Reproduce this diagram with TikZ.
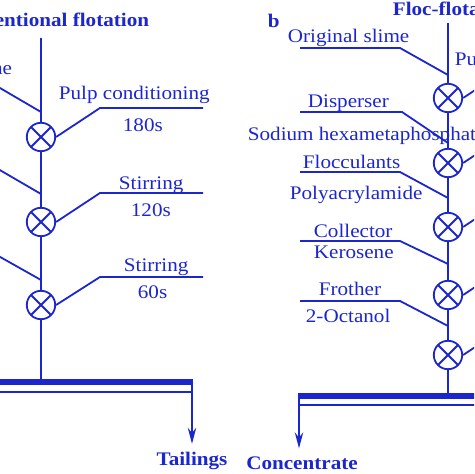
\documentclass[tikz,border=0pt]{standalone}
\usepackage{fontspec}
\setmainfont{Liberation Serif}[FakeStretch=1.1]
\usepackage{xcolor}
\usetikzlibrary{arrows.meta}
\definecolor{flowblue}{RGB}{28,38,205}

\begin{document}
\begin{tikzpicture}[x=0.5pt, y=-0.5pt, >={Stealth[length=8pt,width=4.2pt]},
  color=flowblue, line width=0.9pt,
  every node/.style={font=\fontsize{9.6}{11}\selectfont, inner sep=0pt},
  title/.style={font=\fontsize{9.6}{11}\selectfont\bfseries},
  mixer/.style={circle, draw, minimum size=14.2pt, path picture={
    \draw (path picture bounding box.north west) -- (path picture bounding box.south east)
          (path picture bounding box.north east) -- (path picture bounding box.south west);}}]
  \useasboundingbox (0,0) rectangle (474,474);
  \clip (0,0) rectangle (474,474);

  % conventional flotation
  \node[title, anchor=base east] (tConv) at (150,27) {Conventional flotation};
  \node[anchor=base east] (tSlimeA) at (13,75) {Original slime};
  \node[mixer] (a1) at (41,137) {};
  \node[mixer] (a2) at (41,222) {};
  \node[mixer] (a3) at (41,305) {};
  \coordinate (aTop) at (41,38);
  \coordinate (aBar) at (41,379);
  \draw (aTop) -- (a1) -- (a2) -- (a3) -- (aBar);
  \coordinate (aJ1) at (41,112);
  \coordinate (aJ2) at (41,194);
  \coordinate (aJ3) at (41,280);
  \coordinate (aIn1) at (-12,81);
  \coordinate (aIn2) at (-14,162);
  \coordinate (aIn3) at (-14,249);
  \draw (-120,81) -- (aIn1) -- (aJ1);
  \draw (-120,162) -- (aIn2) -- (aJ2);
  \draw (-120,249) -- (aIn3) -- (aJ3);
  \node[anchor=base west] (tPulpA) at (58,100) {Pulp conditioning};
  \node[anchor=base west] (tTimeA1) at (122,132) {180s};
  \node[anchor=base west] (tStirA2) at (118,190) {Stirring};
  \node[anchor=base west] (tTimeA2) at (130,217) {120s};
  \node[anchor=base west] (tStirA3) at (123,272) {Stirring};
  \node[anchor=base west] (tTimeA3) at (137,299) {60s};
  \draw (a1.east) -- (100,108) -- (203,108);
  \draw (a2.east) -- (100,193) -- (203,193);
  \draw (a3.east) -- (100,277) -- (203,277);
  \fill (-10,379) rectangle (192,385);
  \draw (-10,392) -- (192,392);
  \coordinate (aBarR) at (192,379);
  \node[title, anchor=base] (tTail) at (192,465) {Tailings};
  \draw[->, shorten >=3.5pt] (aBarR) -- (aBarR |- tTail.north);

  % floc-flotation
  \node[title, anchor=base west] (tB) at (267,28) {b};
  \node[title, anchor=base west] (tFloc) at (392,16) {Floc-flotation};
  \node[mixer] (b1) at (448,98) {};
  \node[mixer] (b2) at (448,163) {};
  \node[mixer] (b3) at (448,227) {};
  \node[mixer] (b4) at (448,295) {};
  \node[mixer] (b5) at (448,355) {};
  \coordinate (bTop) at (448,23);
  \coordinate (bBar) at (448,393);
  \draw (bTop) -- (b1) -- (b2) -- (b3) -- (b4) -- (b5) -- (bBar);
  \foreach \m in {b1,b2,b3,b4,b5}
    \draw (\m.east) -- ++(44,-29) -- ++(100,0);
  \node[anchor=base west] (tPulpB) at (454,66) {Pulp conditioning};
  \draw (300,48) -- (400,48) -- (448,75);
  \draw (300,112) -- (402,112) -- (448,143);
  \draw (300,172) -- (400,172) -- (448,198);
  \draw (300,241) -- (400,241) -- (448,264);
  \draw (300,301) -- (400,301) -- (448,326);
  \node[anchor=base west] (tSlimeB) at (287,43) {Original slime};
  \node[anchor=base west] (tDisp) at (307,108) {Disperser};
  \node[anchor=base west] (tSodium) at (247,141) {Sodium hexametaphosphate};
  \node[anchor=base west] (tFlocc) at (302,169) {Flocculants};
  \node[anchor=base west] (tPoly) at (289,200) {Polyacrylamide};
  \node[anchor=base west] (tColl) at (313,238) {Collector};
  \node[anchor=base west] (tKero) at (313,259) {Kerosene};
  \node[anchor=base west] (tFroth) at (318,296) {Frother};
  \node[anchor=base west] (tOct) at (305,322) {2-Octanol};
  \fill (299,393) rectangle (490,399);
  \draw (299,405) -- (490,405);
  \coordinate (bBarL) at (299,393);
  \node[title, anchor=base] (tConc) at (302,469) {Concentrate};
  \draw[->, shorten >=3.5pt] (bBarL) -- (bBarL |- tConc.north);
\end{tikzpicture}
\end{document}
